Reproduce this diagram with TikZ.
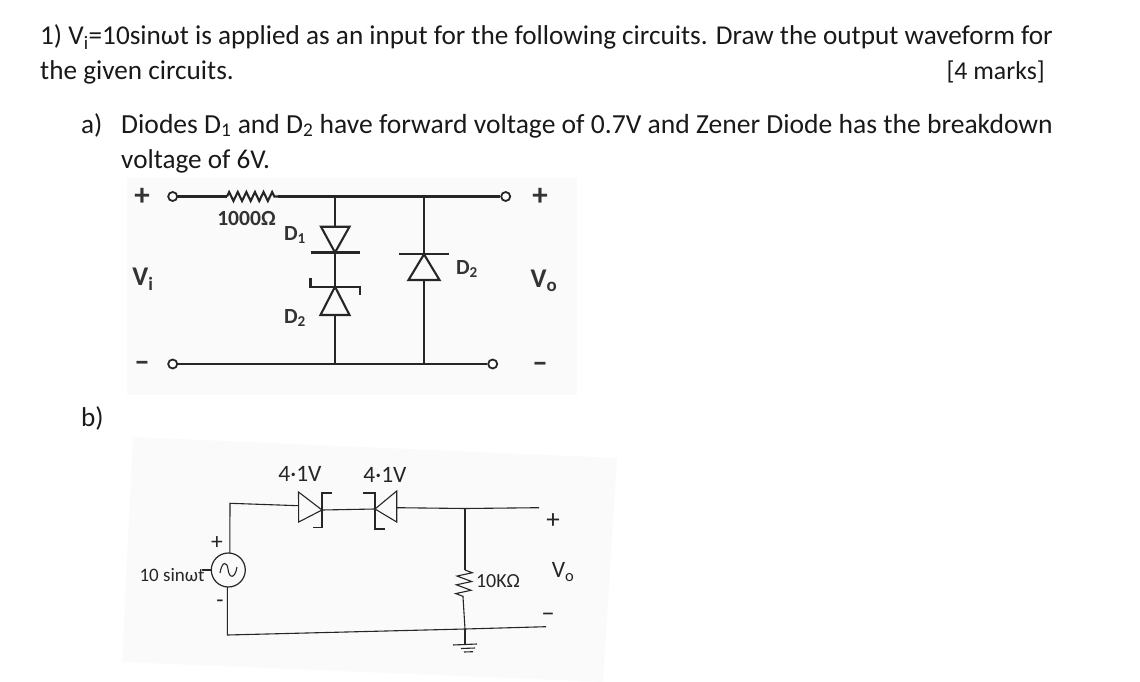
\documentclass[tikz,border=0pt]{standalone}
\usepackage{fontspec}
\setmainfont{Carlito}
\usetikzlibrary{positioning,decorations.pathmorphing}

\tikzset{
  wire/.style={line width=2.1pt, draw=black!85},
  hand/.style={line width=1.1pt, draw=black!85},
  terminal/.style={circle, draw=black!85, line width=1.8pt, fill=white, inner sep=0pt, minimum size=9pt},
  body/.style={anchor=base west, font=\fontsize{27.2}{30}\selectfont, text=black!90, inner sep=0pt},
  cct/.style={font=\bfseries\fontsize{21.6}{24}\selectfont, text=black!80, inner sep=0pt},
  bigsign/.style={font=\bfseries\fontsize{31}{32}\selectfont, text=black!80, inner sep=0pt},
  scribble/.style={font=\fontsize{23.5}{26}\selectfont, text=black!85, inner sep=0pt},
  zigzagres/.style={decorate, decoration={zigzag, segment length=8.6pt, amplitude=4.5pt}},
  handres/.style={decorate, decoration={zigzag, segment length=8.8pt, amplitude=7.5pt}},
}

\begin{document}
\begin{tikzpicture}[x=1pt,y=-1pt]
  \useasboundingbox (0,0) rectangle (1140,682);
  \fill[black!2] (127,178) rectangle (577,395);
  \fill[black!2] (133,437) -- (617,458) -- (603,682) -- (122,662) -- cycle;

  % question text
  \node[body] (q1) at (40,45) {1) V\textsubscript{i}=10sinωt is applied as an input for the following circuits. Draw the output waveform for};
  \node[body] (q2) at (40,80) {the given circuits.};
  \node[body, anchor=base east, font=\fontsize{25.8}{30}\selectfont] (marks) at (1045,80) {[4 marks]};
  \node[body] (qa) at (81,133) {a)};
  \node[body, font=\fontsize{27.58}{30}\selectfont] (qa1) at (121,133) {Diodes D\textsubscript{1} and D\textsubscript{2} have forward voltage of 0.7V and Zener Diode has the breakdown};
  \node[body] (qa2) at (121,168) {voltage of 6V.};
  \node[body] (qb) at (81,426) {b)};

  % circuit a
  \node[terminal] (tl) at (172.7,196.5) {};
  \node[terminal] (bl) at (172.7,364) {};
  \node[terminal] (tr) at (505.7,196.5) {};
  \node[terminal] (br) at (492.7,364) {};
  \coordinate (ra) at (227,196.5);
  \coordinate[right=51pt of ra] (rb);
  \coordinate (j1) at (335,196.5);
  \coordinate (j2) at (424,196.5);
  \coordinate (k1) at (335,364);
  \coordinate (k2) at (424,364);
  \coordinate (d1t) at (335,226.7);
  \coordinate (d1k) at (335,252.5);
  \coordinate (zk) at (335,286.7);
  \coordinate (zb) at (335,315);
  \coordinate (d3k) at (424,254.3);
  \coordinate (d3b) at (424,280);

  \draw[wire] (tl) -- (ra);
  \draw[wire, zigzagres] (ra) -- (rb);
  \draw[wire] (rb) -- (j1) -- (j2) -- (tr);
  \draw[wire] (bl) -- (k1) -- (k2) -- (br);
  \draw[wire] (j1) -- (d1t);
  \draw[wire] (d1t) -- ++(-14,0) -- (d1k) -- ++(14.5,-25.8) -- (d1t);
  \draw[wire] (d1k) ++(-24.5,0) -- ++(49.5,0);
  \draw[wire] (d1k) -- (zk);
  \draw[wire] (zk) ++(-24.5,-9) -- ++(0,9) -- ++(49.5,0) -- ++(0,8.5);
  \draw[wire] (zk) -- ++(-14.5,28.3) -- ++(29,0) -- cycle;
  \draw[wire] (zb) -- (k1);
  \draw[wire] (j2) -- (d3k);
  \draw[wire] (d3k) ++(-25,0) -- ++(50,0);
  \draw[wire] (d3k) -- ++(-15.5,25.7) -- ++(31,0) -- cycle;
  \draw[wire] (d3b) -- (k2);

  \node[bigsign] (plusl) at (142,197) {+};
  \node[bigsign] (minusl) at (142,366) {–};
  \node[cct, font=\bfseries\fontsize{27}{28}\selectfont] (vi) at (143,279) {V\textsubscript{i}};
  \node[cct] (rlab) at (246.5,218) {1000Ω};
  \node[cct] (d1lab) at (295,235) {D\textsubscript{1}};
  \node[cct] (d2lab) at (295,318) {D\textsubscript{2}};
  \node[cct] (d3lab) at (467,269) {D\textsubscript{2}};
  \node[bigsign] (plusr) at (540,197) {+};
  \node[bigsign] (minusr) at (540,367) {–};
  \node[cct, font=\bfseries\fontsize{27}{28}\selectfont] (vo) at (544,281) {V\textsubscript{o}};

  % circuit b
  \node[circle, draw=black!85, line width=1.2pt, minimum size=34pt, inner sep=0pt] (src) at (228.3,570) {};
  \coordinate (c1) at (230,503.3);
  \coordinate (c2) at (227.3,635);
  \coordinate (a1) at (298.5,505.7);
  \coordinate (a2) at (322,510);
  \coordinate (a3) at (375,509);
  \coordinate (a4) at (397,507.7);
  \coordinate (c3) at (465,508.5);
  \coordinate (c4) at (539,507.7);
  \coordinate (c5) at (465,629);
  \coordinate (c6) at (546,626.7);
  \coordinate (r1) at (465,570);
  \coordinate (r2) at (463,597);
  \coordinate (gnd) at (465,645);

  \draw[hand] (src) ++(1.5,-17) -- (c1) -- (a1);
  \draw[hand] (src) ++(-1,17) -- (c2) -- (c5) -- (c6);
  \draw[hand] (a2) -- (a3);
  \draw[hand] (a4) -- (c3) -- (c4);
  \draw[hand] (c3) -- (r1);
  \draw[hand, handres] (r1) -- (r2);
  \draw[hand] (r2) -- (c5);
  \draw[hand] (c5) -- (gnd);

  \draw[hand] (298.5,492) -- (298.7,522) -- (a2) -- cycle;
  \draw[hand] (331.7,493) -- (322,493) -- (322,527.7) -- (312.7,527.7);
  \draw[hand] (362.7,493) -- (375,493) -- (375,529) -- (385,529);
  \draw[hand] (a3) -- (396.7,491) -- (396.7,522) -- cycle;

  \draw[hand] (453,645) -- (477,644);
  \draw[hand] (461,648.5) -- (475,648);
  \draw[hand] (464,652) -- (473,651.7);

  \draw[hand] (src.west) -- ++(-9,0);
  \draw[hand] (220,573) .. controls (222,561) and (227,561) .. (228,569) .. controls (229,579) and (235,579) .. (237,567);

  \node[scribble] (v1) at (300,474) {4·1V};
  \node[scribble] (v2) at (385,475) {4·1V};
  \node[scribble, font=\fontsize{19}{22}\selectfont] (srclab) at (172,575) {10 sinωt};
  \node[scribble] (plusa) at (217,543) {+};
  \node[scribble] (minusa) at (220,604) {-};
  \node[scribble, font=\fontsize{20}{24}\selectfont] (rlabb) at (498,581) {10KΩ};
  \node[scribble, font=\fontsize{27}{28}\selectfont] (plusb) at (553,521) {+};
  \node[scribble] (vob) at (563,572) {V\textsubscript{o}};
  \node[scribble, font=\fontsize{27}{28}\selectfont] (minusb) at (548,617) {–};
\end{tikzpicture}
\end{document}
